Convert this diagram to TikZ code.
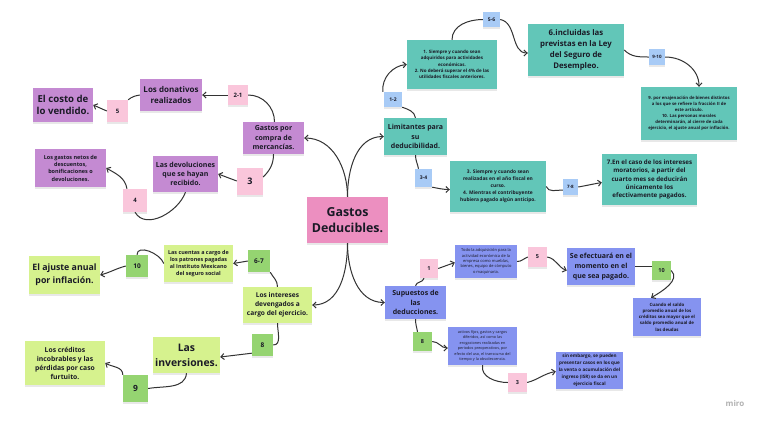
\documentclass[tikz,border=0pt]{standalone}
\usepackage{fontspec}
\setmainfont{Open Sans}
\usetikzlibrary{arrows.meta,shadows,calc}
\definecolor{ink}{HTML}{1A1A26}
\definecolor{linec}{HTML}{333333}
\definecolor{cpink}{HTML}{EC8FC0}
\definecolor{purp}{HTML}{C48AD2}
\definecolor{lpink}{HTML}{FAC6DB}
\definecolor{lgreen}{HTML}{D6F28E}
\definecolor{dgreen}{HTML}{95D471}
\definecolor{tealc}{HTML}{62C6B8}
\definecolor{lblue}{HTML}{A8CBF6}
\definecolor{peri}{HTML}{8593F0}
\tikzset{
  note/.style={inner sep=0pt, align=center, text=ink,
    drop shadow={shadow xshift=0pt,shadow yshift=-2.2pt,opacity=0.18}},
  sz/.style n args={2}{minimum width=#1pt, minimum height=#2pt},
  fs/.style n args={2}{font=\fontsize{#1}{#2}\selectfont\bfseries},
  fsr/.style n args={2}{font=\fontsize{#1}{#2}\selectfont},
  pu/.style={note, fill=purp},
  pk/.style={note, fill=lpink},
  lg/.style={note, fill=lgreen},
  dg/.style={note, fill=dgreen},
  tl/.style={note, fill=tealc},
  lb/.style={note, fill=lblue},
  bl/.style={note, fill=peri},
  ln/.style={line width=1pt, draw=linec},
  arr/.style={ln, -{Straight Barb[length=3.2pt,width=6pt]}},
}
\begin{document}
\begin{tikzpicture}[x=1pt,y=1pt]
\useasboundingbox (0,0) rectangle (768,-424);
\fill[white] (0,0) rectangle (768,-424);

% centre
\node[note,fill=cpink,sz={81}{46},fs={12.4}{16.5}] (C) at (347.5,-220) {Gastos\\Deducibles.};

% purple branch
\node[pu,sz={61}{32},fs={7}{9.5}] (gpc) at (273.5,-138) {Gastos por\\compra de\\mercancías.};
\node[pk,sz={20}{20},fs={6}{7}] (n21) at (238,-95) {2-1};
\node[pu,sz={62}{32},fs={8}{11}] (don) at (171,-95) {Los donativos\\realizados};
\node[pk,sz={21}{22},fs={6}{7}] (n5p) at (117.5,-111) {5};
\node[pu,sz={60}{34},fs={9.6}{12.5}] (costo) at (63,-105) {El costo de\\lo vendido.};
\node[pk,sz={26}{27},fs={9}{10}] (n3p) at (250,-181) {3};
\node[pu,sz={65}{36},fs={7}{9}] (dev) at (185.5,-174) {Las devoluciones\\que se hayan\\recibido.};
\node[pk,sz={24}{23},fs={6}{7}] (n4p) at (135,-200.5) {4};
\node[pu,sz={71}{38},fs={5.5}{7.3}] (netos) at (70.5,-168) {Los gastos netos de\\descuentos,\\bonificaciones o\\devoluciones.};

% green branch
\node[lg,sz={69}{36},fs={6.6}{9}] (int) at (277.5,-305) {Los intereses\\devengados a\\cargo del ejercicio.};
\node[dg,sz={22}{22},fs={6.5}{7}] (n67) at (259,-261) {6-7};
\node[lg,sz={69}{37},fs={5.4}{7}] (cuentas) at (198.5,-263.5) {Las cuentas a cargo de\\los patrones pagadas\\al Instituto Mexicano\\del seguro social};
\node[dg,sz={22}{22},fs={6.5}{7}] (n10g) at (137,-266) {10};
\node[lg,sz={71}{38},fs={8.8}{13}] (ajuste) at (64.5,-275) {El ajuste anual\\por inflación.};
\node[dg,sz={21}{22},fs={6.5}{7}] (n8g) at (262.5,-345) {8};
\node[lg,sz={67}{36},fs={10.4}{15}] (inv) at (186.5,-355) {Las\\inversiones.};
\node[dg,sz={25}{27},fs={8.5}{9}] (n9g) at (135.5,-388.5) {9};
\node[lg,sz={80}{44},fs={6.8}{9}] (cred) at (65,-363) {Los créditos\\incobrables y las\\pérdidas por caso\\furtuito.};

% teal branch
\node[tl,sz={63}{37},fs={7}{9.7}] (lim) at (415.5,-136.5) {Limitantes para\\su\\deducibilidad.};
\node[lb,sz={18}{15},fs={5}{6}] (n12) at (393,-99.5) {1-2};
\node[tl,sz={90}{49},fs={4.5}{6.3}] (siem1) at (452,-64.5) {1. Siempre y cuando sean\\adquiridos para actividades\\económicas.\\2. No deberá superar el 4\% de las\\utilidades fiscales anteriores.};
\node[lb,sz={17}{15},fs={5}{6}] (n56) at (491.5,-19.5) {5-6};
\node[tl,sz={96}{52},fs={7.8}{11}] (incl) at (576,-50) {6.incluidas las\\previstas en la Ley\\del Seguro de\\Desempleo.};
\node[lb,sz={16}{16},fs={4.5}{5}] (n910) at (657,-57) {9-10};
\node[tl,sz={96}{53},fs={4.3}{6}] (enaj) at (689,-113.5) {9. por enajenación de bienes distintos\\a los que se refiere la fracción II de\\este artículo.\\10. Las personas morales\\determinarán, al cierre de cada\\ejercicio, el ajuste anual por inflación.};
\node[lb,sz={17}{18},fs={5}{6}] (n34) at (423.5,-178) {3-4};
\node[tl,sz={96}{51},fs={4.9}{7}] (siem3) at (498,-186.5) {3. Siempre y cuando sean\\realizadas en el año fiscal en\\curso.\\4. Mientras el contribuyente\\hubiera pagado algún anticipo.};
\node[lb,sz={15}{16},fs={4.5}{5}] (n78) at (570.5,-187) {7-8};
\node[tl,sz={95}{51},fs={6.2}{8.3}] (mora) at (649.5,-179.5) {7.En el caso de los intereses\\moratorios, a partir del\\cuarto mes se deducirán\\únicamente los\\efectivamente pagados.};

% blue branch
\node[bl,sz={61}{33},fs={7}{9.3}] (sup) at (415.5,-302.5) {Supuestos de\\las\\deducciones.};
\node[pk,sz={18}{19},fs={5.5}{6}] (n1p) at (429,-268.5) {1};
\node[bl,sz={62}{33},fsr={4}{5.3}] (todo) at (486,-261.5) {Todo la adquisición para la\\actividad económica de la\\empresa como mueblas,\\bienes, equipo de cómputo\\o maquinaria.};
\node[pk,sz={19}{20},fs={5.5}{6}] (n5b) at (537.5,-257) {5};
\node[bl,sz={68}{37},fs={7}{10}] (efec) at (601,-266.5) {Se efectuará en el\\momento en el\\que sea pagado.};
\node[dg,sz={19}{19},fs={5.5}{6}] (n10b) at (661.5,-270.5) {10};
\node[bl,sz={68}{38},fs={4.4}{6.3}] (cuando) at (667,-317) {Cuando el saldo\\promedio anual de los\\créditos sea mayor que el\\saldo promedio anual de\\las deudas};
\node[dg,sz={19}{19},fs={5.5}{6}] (n8b) at (422.5,-341.5) {8};
\node[bl,sz={69}{38},fsr={3.8}{5.5}] (activ) at (482.5,-346) {activos fijos, gastos y cargos\\diferidos, así como las\\erogaciones realizadas en\\periodos preoperativos, por\\efecto del uso, el transcurso del\\tiempo y la obsolescencia.};
\node[pk,sz={19}{19},fs={5.5}{6}] (n3b) at (517.5,-382.5) {3};
\node[bl,sz={67}{37},fs={4.6}{7}] (sinemb) at (589.5,-370.5) {sin embargo, se pueden\\presentar casos en los que\\la venta o acumulación del\\ingreso (ISR) se da en un\\ejercicio fiscal};

\node[text=black!30,font=\fontsize{8}{8}\selectfont\bfseries] (miro) at (735,-403) {miro};

% centre connectors
\draw[arr] (C.north) to[out=90,in=0] (gpc.east);
\draw[arr] (C.north) to[out=90,in=180] (lim.west);
\draw[arr] (C.south) to[out=-90,in=0] (int.east);
\draw[arr] (C.south) to[out=-90,in=180] (sup.west);

% purple
\draw[ln] (n21.east) to[out=0,in=90] ($(gpc.north)+(1,0)$);
\draw[arr] (n21.west) -- (don.east);
\draw[ln] (don.west) to[out=190,in=40] (n5p.north east);
\draw[arr] (n5p.west) -- (costo.east);
\draw[ln] (gpc.south) to[out=-90,in=45] ($(n3p.east)+(0,4)$);
\draw[arr] (n3p.west) -- (dev.east);
\draw[ln] (dev.south) to[out=-110,in=-60] (n4p.south);
\draw[arr] ($(n4p.north)+(-8,0)$) to[out=100,in=-30] (netos.east);

% green
\draw[ln] (int.north) to[out=90,in=-60] (n67.south east);
\draw[arr] (n67.west) -- (cuentas.east);
\draw[ln] (cuentas.west) to[out=110,in=90] (n10g.north);
\draw[arr] (n10g.west) to[out=195,in=15] (ajuste.east);
\draw[ln] (int.south) to[out=-90,in=0] (n8g.east);
\draw[arr] ($(n8g.south west)+(0,3)$) -- ($(inv.east)+(0,-2)$);
\draw[ln] (inv.south) to[out=-95,in=10] (n9g.east);
\draw[arr] (n9g.north west) to[out=90,in=-30] (cred.east);

% teal
\draw[ln] (lim.north) to[out=100,in=-20] (n12.south east);
\draw[arr] ($(n12.north west)+(-1,0)$) to[out=95,in=185] (siem1.west);
\draw[ln] (siem1.north) to[out=90,in=180] (n56.west);
\draw[arr] (n56.east) to[out=-10,in=180] ($(incl.west)+(0,-3)$);
\draw[ln] (incl.east) to[out=-45,in=180] (n910.west);
\draw[arr] (n910.east) to[out=0,in=90] ($(enaj.north)+(10,0)$);
\draw[ln] (lim.south) to[out=-90,in=100] ($(n34.north)+(-5,0)$);
\draw[arr] (n34.south east) to[out=-10,in=180] ($(siem3.west)+(0,-3)$);
\draw[ln] (siem3.east) to[out=-70,in=180] ($(n78.west)+(0,-3)$);
\draw[arr] (n78.east) to[out=10,in=190] ($(mora.west)+(0,-3)$);

% blue
\draw[ln] (sup.north) to[out=80,in=-100] ($(n1p.south)+(-5,0)$);
\draw[arr] (n1p.east) -- ($(todo.west)+(0,-1)$);
\draw[ln] (todo.east) to[out=0,in=200] (n5b.west);
\draw[arr] (n5b.east) to[out=-10,in=160] ($(efec.west)+(0,-4)$);
\draw[ln] (efec.east) -- ($(n10b.west)+(0,4)$);
\draw[arr] (n10b.east) to[out=-45,in=30] ($(cuando.north)+(-16,0)$);
\draw[ln] (sup.south) to[out=-90,in=100] ($(n8b.north)+(-5,0)$);
\draw[arr] (n8b.east) to[out=0,in=180] ($(activ.west)+(0,-2)$);
\draw[ln] (activ.south) to[out=-100,in=180] (n3b.west);
\draw[arr] (n3b.east) to[out=15,in=190] ($(sinemb.west)+(0,-1)$);
\end{tikzpicture}
\end{document}
